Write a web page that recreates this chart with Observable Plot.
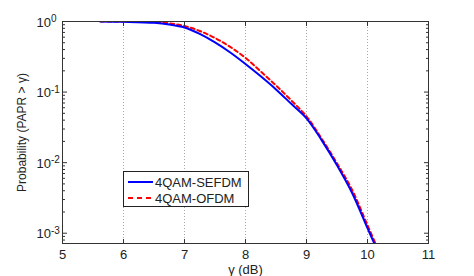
<!DOCTYPE html>
<html>
<head>
<meta charset="utf-8">
<script src="https://cdn.jsdelivr.net/npm/d3@7"></script>
<script src="https://cdn.jsdelivr.net/npm/@observablehq/plot@0.6"></script>
<style>
  html, body { margin: 0; padding: 0; background: #fff; }
  #wrap { position: relative; width: 474px; height: 276px; font-family: "Liberation Sans", Arial, sans-serif; }
  #legend { position: absolute; left: 123px; top: 171px; width: 124px; height: 34px; border: 1px solid #222; background: #fff; box-sizing: content-box; }
  .row { position: absolute; left: 0; height: 16px; display: flex; align-items: center; font-size: 13px; color: #222; }
  .row svg { margin-left: 4px; margin-right: 2px; }
</style>
</head>
<body>
<div id="wrap"></div>
<script>
// Data
const gammaSEFDM = [5.62, 6, 6.5, 6.75, 7, 7.25, 7.5, 7.75, 8, 8.25, 8.5, 8.75, 9, 9.25, 9.5, 9.75, 10, 10.11];
const probSEFDM  = [1.0, 0.99, 0.958, 0.907, 0.822, 0.666, 0.505, 0.364, 0.250, 0.167, 0.109, 0.0681, 0.0425, 0.0207, 0.00919, 0.00369, 0.00118, 0.00072];
const gammaOFDM  = [5.62, 6, 6.5, 6.75, 7, 7.25, 7.5, 7.75, 8, 8.25, 8.5, 8.75, 9, 9.25, 9.5, 9.75, 10, 10.13];
const probOFDM   = [1.0, 0.997, 0.978, 0.943, 0.864, 0.734, 0.584, 0.436, 0.305, 0.196, 0.124, 0.0763, 0.0453, 0.0218, 0.0098, 0.00407, 0.0013, 0.00072];
const seriesNames = ["4QAM-SEFDM", "4QAM-OFDM"];
const xTicks = [5, 6, 7, 8, 9, 10, 11];
const xGrid = [6, 7, 8, 9, 10];
const yMajor = [1, 0.1, 0.01, 0.001];
const yMinor = [2e-4,3e-4,4e-4,5e-4,6e-4,7e-4,8e-4,9e-4,2e-3,3e-3,4e-3,5e-3,6e-3,7e-3,8e-3,9e-3,2e-2,3e-2,4e-2,5e-2,6e-2,7e-2,8e-2,9e-2,0.2,0.3,0.4,0.5,0.6,0.7,0.8,0.9].filter(v => v >= 7.15e-4);

const sefdm = gammaSEFDM.map((g, i) => ({g, p: probSEFDM[i]}));
const ofdm = gammaOFDM.map((g, i) => ({g, p: probOFDM[i]}));

const ink = "#222";
const chart = Plot.plot({
  width: 474, height: 276,
  marginLeft: 62, marginRight: 46, marginTop: 21, marginBottom: 33,
  style: {fontFamily: "'Liberation Sans', Arial, sans-serif", fontSize: "13px", background: "white", color: ink},
  x: {domain: [5, 11]},
  y: {type: "log", domain: [7.15e-4, 1]},
  marks: [
    Plot.gridX(xGrid, {stroke: "#aaa", strokeOpacity: 1, strokeDasharray: "1,2"}),
    Plot.line(ofdm, {x: "g", y: "p", stroke: "#ff0000", strokeWidth: 2, strokeDasharray: "4,3", curve: "catmull-rom", clip: true}),
    Plot.line(sefdm, {x: "g", y: "p", stroke: "#0000ff", strokeWidth: 2, curve: "catmull-rom", clip: true}),
    Plot.frame({stroke: "#333"}),
    Plot.axisX({ticks: xTicks, tickSize: 0, tickPadding: 6, tickFormat: d3.format("d"), label: "γ (dB)", labelAnchor: "center", labelOffset: 30, labelArrow: "none", fontSize: 13}),
    Plot.axisX({ticks: xTicks, tickSize: -4, tickFormat: () => "", label: null, stroke: "#333"}),
    Plot.axisX({anchor: "top", ticks: xTicks, tickSize: -4, tickFormat: () => "", label: null, stroke: "#333"}),
    Plot.axisY({ticks: yMajor, tickSize: -5, tickFormat: () => "", label: "Probability (PAPR > γ)", labelAnchor: "center", labelOffset: 45, labelArrow: "none", fontSize: 12, stroke: "#333"}),
    Plot.axisY({ticks: yMinor, tickSize: -3, tickFormat: () => "", label: null, stroke: "#333"}),
    Plot.axisY({anchor: "right", ticks: yMajor, tickSize: -5, tickFormat: () => "", label: null, stroke: "#333"}),
    Plot.axisY({anchor: "right", ticks: yMinor, tickSize: -3, tickFormat: () => "", label: null, stroke: "#333"}),
    Plot.text(yMajor, {y: d => d, frameAnchor: "left", text: () => "10", textAnchor: "end", dx: -11.5, dy: 1, fontSize: 13, fill: ink}),
    Plot.text(yMajor, {y: d => d, frameAnchor: "left", text: d => String(Math.round(Math.log10(d))), textAnchor: "start", dx: -11.5, dy: -2.6, fontSize: 10, fill: ink})
  ]
});
const wrap = document.getElementById("wrap");
wrap.appendChild(chart);

const legend = document.createElement("div");
legend.id = "legend";
legend.innerHTML = `
  <div class="row" style="top:2px"><svg width="25" height="4"><line x1="0" x2="25" y1="2" y2="2" stroke="#0000ff" stroke-width="2"/></svg>${seriesNames[0]}</div>
  <div class="row" style="top:18px"><svg width="25" height="4"><line x1="0" x2="25" y1="2" y2="2" stroke="#ff0000" stroke-width="2" stroke-dasharray="5,4"/></svg>${seriesNames[1]}</div>`;
wrap.appendChild(legend);
</script>
</body>
</html>
